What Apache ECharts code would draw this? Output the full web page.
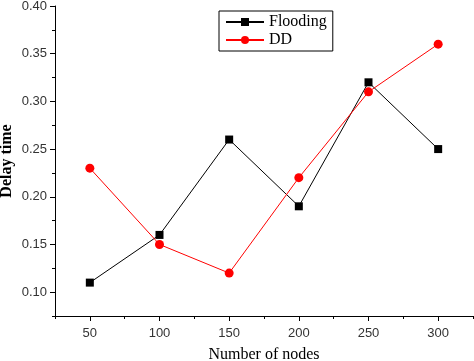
<!DOCTYPE html>
<html><head><meta charset="utf-8">
<script src="https://cdn.jsdelivr.net/npm/echarts@6/dist/echarts.min.js"></script>
<style>html,body{margin:0;padding:0;background:#fff}#c{width:474px;height:361px}</style>
</head><body><div id="c"></div>
<script>
const nodes = [50, 100, 150, 200, 250, 300];
const flooding = [0.11, 0.16, 0.26, 0.19, 0.32, 0.25];
const dd = [0.23, 0.15, 0.12, 0.22, 0.31, 0.36];
const xMajor = [50, 100, 150, 200, 250, 300];
const xMinor = [25, 75, 125, 175, 225, 275, 325];
const yMajor = [0.10, 0.15, 0.20, 0.25, 0.30, 0.35, 0.40];
const yMinor = [0.075, 0.125, 0.175, 0.225, 0.275, 0.325, 0.375];

const chart = echarts.init(document.getElementById('c'), null, {renderer: 'canvas'});
const axLine = {show: true, lineStyle: {color: '#000', width: 1}};
const lblStyle = {color: '#333', fontFamily: 'Liberation Sans', fontSize: 13};
chart.setOption({
  animation: false,
  grid: {left: 55, right: 1, top: 6, bottom: 45, containLabel: false, outerBoundsMode: 'none'},
  legend: {
    left: 219, top: 11, orient: 'vertical', itemGap: 2, itemWidth: 38, itemHeight: 10,
    padding: [3, 6, 3, 6], borderColor: '#000', borderWidth: 1,
    textStyle: {fontFamily: 'Liberation Serif', fontSize: 16, color: '#000'},
    data: ['Flooding', 'DD']
  },
  xAxis: [{
    type: 'value', min: 25, max: 325, interval: 25,
    axisLine: axLine,
    axisTick: {show: true, length: 5, customValues: xMajor, lineStyle: {color: '#000'}},
    axisLabel: Object.assign({customValues: xMajor, margin: 11}, lblStyle),
    splitLine: {show: false},
    name: 'Number of nodes', nameLocation: 'middle', nameGap: 31, nameMoveOverlap: false,
    nameTextStyle: {fontFamily: 'Liberation Serif', fontSize: 16, color: '#000'}
  }, {
    type: 'value', min: 25, max: 325, interval: 25, position: 'bottom',
    axisLine: {show: false},
    axisTick: {show: true, length: 3, customValues: xMinor, lineStyle: {color: '#000'}},
    axisLabel: {show: false}, splitLine: {show: false}
  }],
  yAxis: [{
    type: 'value', min: 0.075, max: 0.4, interval: 0.025,
    axisLine: axLine,
    axisTick: {show: true, length: 5, customValues: yMajor, lineStyle: {color: '#000'}},
    axisLabel: Object.assign({customValues: yMajor, margin: 8, formatter: v => v.toFixed(2)}, lblStyle),
    splitLine: {show: false},
    name: 'Delay time', nameLocation: 'middle', nameGap: 40, nameMoveOverlap: false,
    nameTextStyle: {fontFamily: 'Liberation Serif', fontSize: 16, fontWeight: 'bold', color: '#000'}
  }, {
    type: 'value', min: 0.075, max: 0.4, interval: 0.025, position: 'left',
    axisLine: {show: false},
    axisTick: {show: true, length: 3, customValues: yMinor, lineStyle: {color: '#000'}},
    axisLabel: {show: false}, splitLine: {show: false}
  }],
  series: [{
    name: 'Flooding', type: 'line', data: nodes.map((n, i) => [n, flooding[i]]),
    symbol: 'rect', symbolSize: 8,
    itemStyle: {color: '#000'}, lineStyle: {color: '#000', width: 1}
  }, {
    name: 'DD', type: 'line', data: nodes.map((n, i) => [n, dd[i]]),
    symbol: 'circle', symbolSize: 9,
    itemStyle: {color: '#f00'}, lineStyle: {color: '#f00', width: 1}
  }]
});
</script></body></html>
